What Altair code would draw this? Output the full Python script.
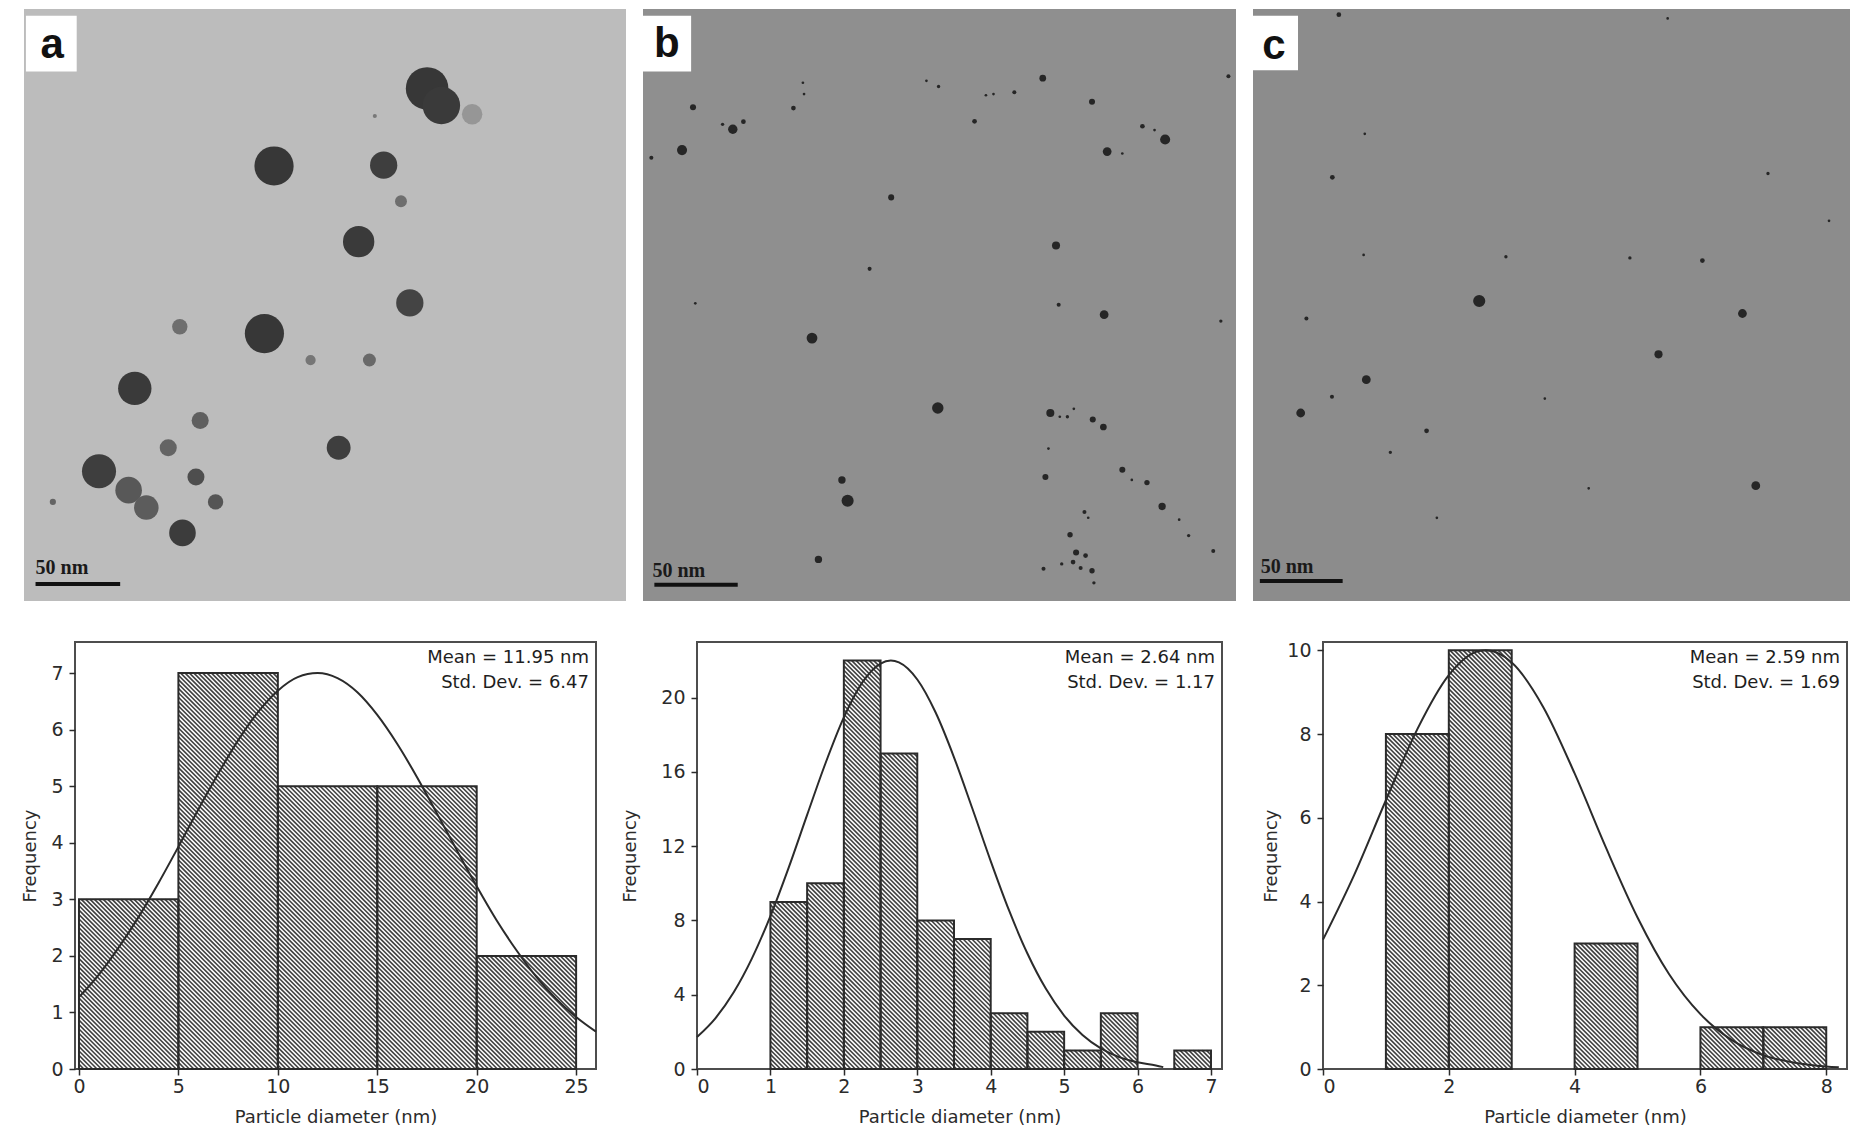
import math
import altair as alt
import pandas as pd

FONT = "DejaVu Sans"
INK = "#2b2b2b"

# ---------------- histogram data ----------------
a_start = [0, 5, 10, 15, 20]
a_end = [5, 10, 15, 20, 25]
a_count = [3, 7, 5, 5, 2]
a_fit_x = [0, 1, 2, 3, 4, 5, 6, 7, 8, 9, 10, 11, 12, 13, 14, 15, 16, 17, 18, 19, 20, 21, 22, 23, 24, 25, 26]
a_fit_y = [1.27, 1.67, 2.15, 2.69, 3.29, 3.93, 4.59, 5.22, 5.81, 6.31, 6.69, 6.93, 7.00, 6.91, 6.66,
           6.26, 5.75, 5.16, 4.52, 3.87, 3.23, 2.63, 2.10, 1.63, 1.24, 0.92, 0.66]
a_stats = ["Mean = 11.95 nm", "Std. Dev. = 6.47"]

b_start = [1.0, 1.5, 2.0, 2.5, 3.0, 3.5, 4.0, 4.5, 5.0, 5.5, 6.5]
b_end = [1.5, 2.0, 2.5, 3.0, 3.5, 4.0, 4.5, 5.0, 5.5, 6.0, 7.0]
b_count = [9, 10, 22, 17, 8, 7, 3, 2, 1, 3, 1]
b_fit_x = [0, 0.25, 0.5, 0.75, 1.0, 1.25, 1.5, 1.75, 2.0, 2.25, 2.5, 2.64, 2.75, 3.0, 3.25, 3.5,
           3.75, 4.0, 4.25, 4.5, 4.75, 5.0, 5.25, 5.5, 5.75, 6.0, 6.25, 6.35]
b_fit_y = [1.72, 2.73, 4.13, 5.97, 8.24, 10.86, 13.69, 16.47, 18.94, 20.81, 21.84, 22.0, 21.90, 20.98,
           19.20, 16.79, 14.03, 11.20, 8.54, 6.22, 4.33, 2.88, 1.83, 1.11, 0.64, 0.36, 0.19, 0.10]
b_stats = ["Mean = 2.64 nm", "Std. Dev. = 1.17"]

c_start = [1, 2, 4, 6, 7]
c_end = [2, 3, 5, 7, 8]
c_count = [8, 10, 3, 1, 1]
c_fit_x = [0, 0.5, 1, 1.5, 2, 2.5, 2.59, 3, 3.5, 4, 4.5, 5, 5.5, 6, 6.5, 7, 7.5, 8, 8.2]
c_fit_y = [3.09, 4.65, 6.42, 8.12, 9.41, 9.99, 10.0, 9.71, 8.65, 7.06, 5.28, 3.62, 2.27, 1.31, 0.69,
           0.33, 0.15, 0.06, 0.04]
c_stats = ["Mean = 2.59 nm", "Std. Dev. = 1.69"]

UNITS = 1565
a_bg = 188
a_px = [1165, 1048, 1085, 650, 935, 980, 870, 1003, 625, 405, 745, 898, 288, 458, 375, 818, 195, 272, 318, 447, 498, 412, 75, 912]
a_py = [278, 210, 255, 415, 413, 508, 615, 777, 858, 840, 928, 928, 1003, 1088, 1160, 1160, 1222, 1272, 1318, 1237, 1303, 1385, 1303, 283]
a_pd = [60, 125, 110, 115, 80, 35, 92, 80, 115, 45, 30, 38, 98, 50, 50, 70, 100, 78, 72, 50, 45, 78, 18, 12]
a_pg = [150, 55, 58, 55, 62, 110, 58, 68, 55, 110, 118, 105, 58, 95, 100, 62, 62, 88, 92, 78, 85, 60, 100, 120]

b_bg = 143
b_px = [103, 237, 265, 210, 132, 22, 397, 425, 422, 655, 446, 778, 525, 540, 463, 598, 138, 1055, 980, 905,
        925, 875, 780, 748, 1185, 1225, 1378, 1318, 1350, 1265, 1090, 1097, 1217, 1525, 1545, 1075, 1120, 1100,
        1137, 1187, 1215, 1062, 1070, 1265, 1330, 1290, 1370, 1165, 1175, 1415, 1127, 1143, 1168, 1135, 1155,
        1185, 1105, 1057, 1440, 1505, 1190]
b_py = [373, 318, 298, 305, 260, 393, 262, 225, 195, 498, 870, 1055, 1245, 1300, 1455, 687, 778, 183, 220, 228,
        225, 297, 205, 190, 245, 377, 345, 310, 320, 382, 625, 782, 808, 825, 178, 1068, 1078, 1078, 1057, 1085,
        1105, 1237, 1162, 1218, 1252, 1245, 1315, 1330, 1345, 1350, 1390, 1437, 1445, 1462, 1478, 1485, 1467,
        1480, 1392, 1433, 1517]
b_pd = [30, 28, 14, 10, 18, 12, 14, 8, 8, 18, 32, 34, 22, 36, 22, 12, 8, 20, 12, 8, 8, 14, 10, 8, 18, 26, 30,
        14, 8, 8, 24, 12, 26, 10, 12, 24, 10, 8, 8, 18, 20, 18, 8, 18, 16, 8, 22, 12, 8, 8, 16, 18, 14, 14, 12,
        16, 10, 12, 10, 12, 10]

c_bg = 140
c_px = [225, 593, 1283, 1063, 297, 125, 1318, 208, 140, 207, 455, 360, 1178, 988, 663, 290, 1350, 1510, 880, 482, 1087, 293, 765]
c_py = [15, 772, 805, 913, 980, 1068, 1260, 445, 818, 1025, 1115, 1172, 665, 658, 655, 650, 435, 560, 1267, 1345, 25, 330, 1030]
c_pd = [14, 36, 26, 24, 26, 26, 26, 14, 12, 12, 14, 10, 14, 10, 10, 8, 10, 8, 8, 8, 8, 8, 8]

grey = alt.Scale(domain=[0, 255], range=["#000000", "#ffffff"], interpolate="rgb")


def hatch_rows(start, end, count, xdom, ydom, W, H, step=4.4):
    kx = W / (xdom[1] - xdom[0])
    ky = H / (ydom[1] - ydom[0])
    rows = []
    for s, e, n in zip(start, end, count):
        X0, X1 = (s - xdom[0]) * kx, (e - xdom[0]) * kx
        Y0, Y1 = 0.0, (n - ydom[0]) * ky
        k0 = math.floor((X0 + Y0) / step) + 1
        k1 = math.ceil((X1 + Y1) / step)
        for k in range(k0, k1):
            c = k * step
            xs = max(X0, c - Y1)
            xe = min(X1, c - Y0)
            if xe - xs > 0.4:
                rows.append({"x": xdom[0] + xs / kx, "y": ydom[0] + (c - xs) / ky,
                             "x2": xdom[0] + xe / kx, "y2": ydom[0] + (c - xe) / ky})
    return pd.DataFrame(rows)


def histogram(start, end, count, fit_x, fit_y, stats, xdom, ydom, xticks, yticks, W, H, title_pad):
    xs = alt.Scale(domain=xdom, nice=False, zero=False)
    ys = alt.Scale(domain=ydom, nice=False, zero=False)
    common = dict(domain=False, grid=False, tickSize=6, tickWidth=1.5, tickColor=INK,
                  labelFont=FONT, labelFontSize=19, labelColor=INK, titleFont=FONT, titleFontSize=18,
                  titleFontWeight="normal", titleColor=INK, format="d")
    xax = alt.Axis(values=xticks, title="Particle diameter (nm)", labelPadding=2, titlePadding=12, **common)
    yax = alt.Axis(values=yticks, title="Frequency", labelPadding=6, titlePadding=title_pad, **common)

    bars = pd.DataFrame({"lo": start, "hi": end, "n": count, "base": [0] * len(count)})
    hatch = hatch_rows(start, end, count, xdom, ydom, W, H)
    fit = pd.DataFrame({"d": fit_x, "f": fit_y})

    hatch_layer = alt.Chart(hatch).mark_rule(color="#404040", strokeWidth=1.6).encode(
        x=alt.X("x:Q", scale=xs, axis=xax), x2="x2:Q",
        y=alt.Y("y:Q", scale=ys, axis=yax), y2="y2:Q")
    outline = alt.Chart(bars).mark_rect(fillOpacity=0, stroke=INK, strokeWidth=2).encode(
        x=alt.X("lo:Q", scale=xs, axis=xax), x2="hi:Q",
        y=alt.Y("n:Q", scale=ys, axis=yax), y2="base:Q")
    curve = alt.Chart(fit).mark_line(color=INK, strokeWidth=2, interpolate="monotone").encode(
        x=alt.X("d:Q", scale=xs, axis=xax), y=alt.Y("f:Q", scale=ys, axis=yax))
    note = alt.Chart(pd.DataFrame({"k": [0]})).mark_text(
        text=stats, align="right", baseline="middle", font=FONT, fontSize=18, color="#1e1e1e",
        lineHeight=25).encode(x=alt.value(W - 7), y=alt.value(16))
    return alt.layer(hatch_layer, outline, curve, note).properties(
        width=W, height=H,
        view=alt.ViewBackground(stroke="#4d4d4d", strokeWidth=2, fill="white"))


def tem(px, py, pdia, pg, bg, letter, box, letter_xy, bar, bar_y, label_xy, W, H, x_range):
    sx = alt.Scale(domain=[0, UNITS], range=x_range, nice=False, zero=False)
    sy = alt.Scale(domain=[0, UNITS], reverse=True, nice=False, zero=False)
    ppu = (x_range[1] - x_range[0]) / UNITS

    def X(f):
        return alt.X(f, scale=sx, axis=None)

    def Y(f):
        return alt.Y(f, scale=sy, axis=None)

    frame = pd.DataFrame({"x0": [0], "x1": [UNITS], "y0": [0], "y1": [UNITS], "g": [bg]})
    back = alt.Chart(frame).mark_rect().encode(
        x=X("x0:Q"), x2="x1:Q", y=Y("y0:Q"), y2="y1:Q",
        color=alt.Color("g:Q", scale=grey, legend=None))
    dots = pd.DataFrame({"x": px, "y": py,
                         "area": [math.pi / 4 * (d * ppu) ** 2 for d in pdia],
                         "g": pg})
    pts = alt.Chart(dots).mark_circle(opacity=1).encode(
        x=X("x:Q"), y=Y("y:Q"),
        size=alt.Size("area:Q", scale=None, legend=None),
        color=alt.Color("g:Q", scale=grey, legend=None))
    boxdf = pd.DataFrame({"x0": [box[0]], "x1": [box[1]], "y0": [box[2]], "y1": [box[3]]})
    lab_box = alt.Chart(boxdf).mark_rect(color="white").encode(
        x=X("x0:Q"), x2="x1:Q", y=Y("y0:Q"), y2="y1:Q")
    lab = alt.Chart(pd.DataFrame({"x": [letter_xy[0]], "y": [letter_xy[1]], "t": [letter]})).mark_text(
        font="Liberation Sans", fontWeight="bold", fontSize=42, color="#111111",
        align="center", baseline="middle").encode(x=X("x:Q"), y=Y("y:Q"), text="t:N")
    bardf = pd.DataFrame({"x0": [bar[0]], "x1": [bar[1]], "y": [bar_y]})
    sbar = alt.Chart(bardf).mark_rule(color="#111111", strokeWidth=4).encode(
        x=X("x0:Q"), x2="x1:Q", y=Y("y:Q"))
    stxt = alt.Chart(pd.DataFrame({"x": [label_xy[0]], "y": [label_xy[1]], "t": ["50 nm"]})).mark_text(
        font="Liberation Serif", fontWeight="bold", fontSize=20, color="#1a1a1a",
        align="left", baseline="middle").encode(x=X("x:Q"), y=Y("y:Q"), text="t:N")
    return alt.layer(back, pts, lab_box, lab, sbar, stxt).properties(
        width=W, height=H, view=alt.ViewBackground(stroke="transparent"))


TH = 592
# panel a's picture starts 51 px left of the histogram frame below it
temA = tem(a_px, a_py, a_pd, a_pg, a_bg, "a", [5, 137, 18, 165], [73, 95], [30, 250], 1520, [30, 1478],
           551, TH, [-51, 551])
temB = tem(b_px, b_py, b_pd, [38] * len(b_px), b_bg, "b", [0, 127, 18, 165], [63, 92], [30, 250], 1522, [25, 1485],
           593, TH, [0, 593])
temC = tem(c_px, c_py, c_pd, [38] * len(c_px), c_bg, "c", [0, 118, 18, 162], [55, 97], [18, 235], 1512, [20, 1475],
           597, TH, [0, 597])

HH = 427
histA = histogram(a_start, a_end, a_count, a_fit_x, a_fit_y, a_stats, [-0.2, 26.0], [0, 7.55],
                  [0, 5, 10, 15, 20, 25], [0, 1, 2, 3, 4, 5, 6, 7], 521, HH, 11)
histB = histogram(b_start, b_end, b_count, b_fit_x, b_fit_y, b_stats, [0, 7.15], [0, 23.0],
                  [0, 1, 2, 3, 4, 5, 6, 7], [0, 4, 8, 12, 16, 20], 525, HH, 21)
histC = histogram(c_start, c_end, c_count, c_fit_x, c_fit_y, c_stats, [0, 8.33], [0, 10.2],
                  [0, 2, 4, 6, 8], [0, 2, 4, 6, 8, 10], 524, HH, 6)

row1 = alt.hconcat(temA, temB, temC, spacing=17, bounds="flush")
row2 = alt.hconcat(histA, histB, histC, spacing=101, bounds="flush")

chart = alt.vconcat(row1, row2, spacing=38).properties(
    padding={"left": 12, "top": 0, "right": 0, "bottom": 0},
    background="white",
).configure_view(stroke="#4d4d4d", strokeWidth=2)

chart.save("out.html", embed_options={"renderer": "svg", "actions": False})
